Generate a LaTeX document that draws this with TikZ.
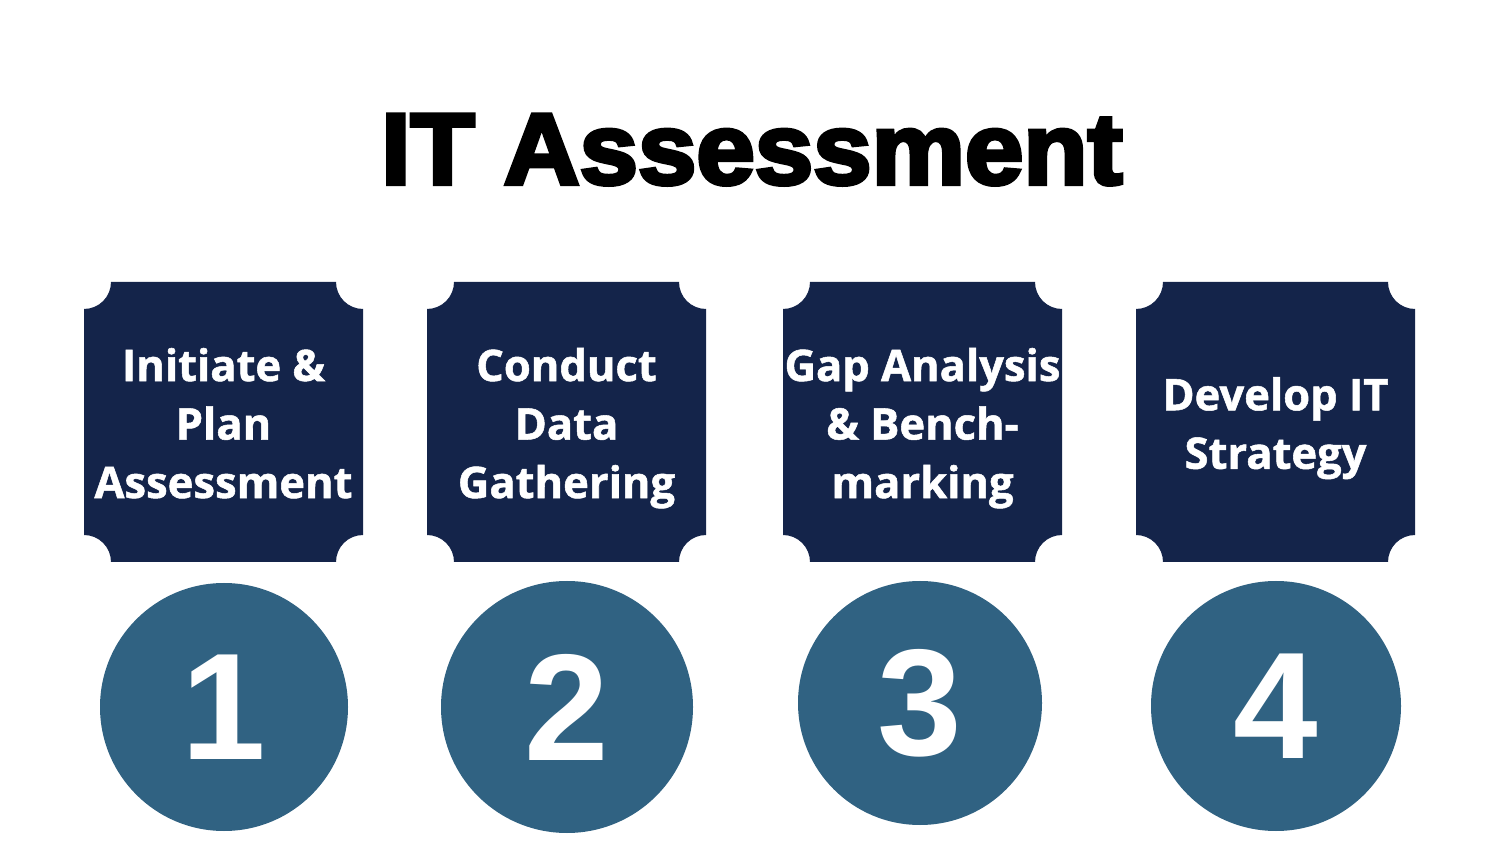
\documentclass[tikz,border=0pt]{standalone}
\usepackage{fontspec}
\newfontfamily\titlefont{Liberation Sans}[BoldFont={* Bold},BoldFeatures={FakeBold=4}]
\newfontfamily\boxfont{Open Sans}[BoldFont={* Bold},BoldFeatures={FakeBold=1.2}]
\newfontfamily\numfont{Liberation Sans}[BoldFont={* Bold}]
\definecolor{navy}{HTML}{14244A}
\definecolor{steel}{HTML}{306282}
\newcommand{\topstrut}{\rule{0pt}{32pt}}
\newcommand{\botstrut}{\rule[-12pt]{0pt}{12pt}}
\tikzset{
  boxtext/.style={text=white,font=\boxfont\bfseries\fontsize{43.5}{58.5}\selectfont,align=center,inner sep=0pt},
  numtext/.style={text=white,font=\numfont\bfseries\fontsize{152}{152}\selectfont,inner sep=0pt},
  disc/.style={circle,fill=steel,inner sep=0pt}
}
\newcommand{\notchbox}[3]{% x0, x1, name
  \fill[navy] (#1,309) arc[start angle=90,end angle=0,radius=27]
    -- (#2-27,282) arc[start angle=180,end angle=90,radius=27]
    -- (#2,535) arc[start angle=270,end angle=180,radius=27]
    -- (#1+27,562) arc[start angle=0,end angle=-90,radius=27] -- cycle;
  \coordinate (#3) at ({(#1+#2)/2},415);
}
\begin{document}
\begin{tikzpicture}[x=1pt,y=1pt]
\useasboundingbox (0,0) rectangle (1500,844);
\fill[white] (0,0) rectangle (1500,844);
\node[font=\titlefont\bfseries\fontsize{101}{101}\selectfont,anchor=base,xscale=1.04] (title) at (752,660) {IT Assessment};
\notchbox{84}{363}{b1}
\notchbox{427}{706}{b2}
\notchbox{783}{1062}{b3}
\notchbox{1136}{1415}{b4}
\node[boxtext] (t1) at (b1) {\topstrut Initiate \&\\Plan\\Assessment\botstrut};
\node[boxtext] (t2) at (b2) {\topstrut Conduct\\Data\\Gathering\botstrut};
\node[boxtext] (t3) at (b3) {\topstrut Gap Analysis\\\& Bench-\\marking\botstrut};
\node[boxtext] (t4) at (b4) {\topstrut Develop IT\\Strategy\botstrut};
\node[disc,minimum size=248pt] (c1) at (224,137) {};
\node[disc,minimum size=252pt] (c2) at (567,137) {};
\node[disc,minimum size=244pt] (c3) at (920,141) {};
\node[disc,minimum size=250pt] (c4) at (1276,138) {};
\node[numtext] (n1) at (c1) {1};
\node[numtext] (n2) at (c2) {2};
\node[numtext] (n3) at (c3) {3};
\node[numtext] (n4) at (c4) {4};
\end{tikzpicture}
\end{document}
